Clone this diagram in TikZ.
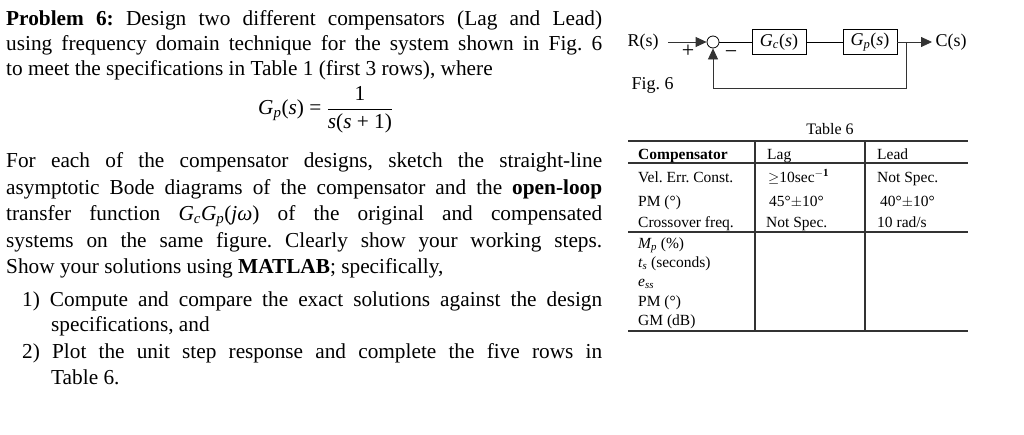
\documentclass[tikz,border=0pt]{standalone}
\usepackage{fontspec}
\setmainfont{Liberation Serif}
\usepackage{amsmath}
\usetikzlibrary{arrows.meta}
\newcommand{\ti}[1]{\textit{#1}}
\frenchspacing
\begin{document}
\begin{tikzpicture}[x=1pt,y=-1pt,
  ln/.style={anchor=base west,inner sep=0,font=\fontsize{21.3}{24}\selectfont},
  tb/.style={anchor=base west,inner sep=0,font=\fontsize{15.5}{17}\selectfont},
  blk/.style={draw,thick,minimum width=54pt,minimum height=25pt,inner sep=0,font=\fontsize{18}{20}\selectfont},
  ar/.style={-{Triangle[length=11pt,width=10pt]},thick,draw=black!80},
  rule/.style={line width=2pt,draw=black!80},
  thin/.style={line width=1.1pt,draw=black!80}]
\useasboundingbox (0,0) rectangle (1024,434);
% left text
\node[ln] (l1) at (6,25) {\makebox[596pt][s]{\textbf{Problem 6:} Design two different compensators (Lag and Lead)}};
\node[ln] (l2) at (6,50) {\makebox[596pt][s]{using frequency domain technique for the system shown in Fig. 6}};
\node[ln] (l3) at (6,75) {to meet the specifications in Table 1 (first 3 rows), where};
\node[anchor=west,inner sep=0,font=\fontsize{21.3}{24}\selectfont] (eq) at (258,110) {\ti{G}\textsubscript{\ti{p}}(\ti{s}) = $\dfrac{\mbox{1}}{\mbox{\ti{s}(\ti{s} + 1)}}$};
\node[ln] (l4) at (6,167) {\makebox[596pt][s]{For each of the compensator designs, sketch the straight-line}};
\node[ln] (l5) at (6,194) {\makebox[596pt][s]{asymptotic Bode diagrams of the compensator and the \textbf{open-loop}}};
\node[ln] (l6) at (6,220) {\makebox[596pt][s]{transfer function \ti{G\textsubscript{c}G\textsubscript{p}}(\ti{jω}) of the original and compensated}};
\node[ln] (l7) at (6,247) {\makebox[596pt][s]{systems on the same figure. Clearly show your working steps.}};
\node[ln] (l8) at (6,273) {Show your solutions using \textbf{MATLAB}; specifically,};
\node[ln] (l9) at (22,306) {\makebox[580pt][s]{1) Compute and compare the exact solutions against the design}};
\node[ln] (l10) at (51,331) {specifications, and};
\node[ln] (l11) at (22,358) {\makebox[580pt][s]{2) Plot the unit step response and complete the five rows in}};
\node[ln] (l12) at (51,384) {Table 6.};
% block diagram
\node[anchor=center,font=\fontsize{18}{20}\selectfont] (R) at (643,42) {R(s)};
\node[draw,thick,circle,minimum size=12pt,inner sep=0] (sum) at (713,42) {};
\node[blk] (gc) at (779,42) {\ti{G\textsubscript{c}}(\ti{s})};
\node[blk] (gp) at (870,42) {\ti{G\textsubscript{p}}(\ti{s})};
\node[anchor=west,font=\fontsize{18}{20}\selectfont] (C) at (932,42) {C(s)};
\coordinate (tap) at (906,42);
\coordinate (fb1) at (906,88);
\coordinate (fb2) at (713,88);
\draw[ar] (R.east) ++(6pt,0) coordinate (rs) -- (sum.west);
\draw[thick] (sum.east) -- (gc.west);
\draw[thick] (gc.east) -- (gp.west);
\draw[ar] (gp.east) -- (C.west);
\draw[ar] (tap) -- (fb1) -- (fb2) -- (sum.south);
\node[font=\fontsize{22}{22}\selectfont] (plus) at (688,51) {+};
\node[font=\fontsize{22}{22}\selectfont] (minus) at (731,55) {−};
\node[anchor=west,font=\fontsize{18}{20}\selectfont] (fig) at (628,85) {Fig. 6};
% table
\node[font=\fontsize{16}{17}\selectfont] (tt) at (830,129) {Table 6};
\draw[rule] (628,141) coordinate (t1) -- (968,141) coordinate (t2);
\draw[thin] (628,163) coordinate (h1) -- (968,163) coordinate (h2);
\draw[thin] (628,232) coordinate (m1) -- (968,232) coordinate (m2);
\draw[rule] (628,331) coordinate (b1) -- (968,331) coordinate (b2);
\draw[thin] (755,141) coordinate (v1) -- (755,331) coordinate (v2);
\draw[thin] (865,141) coordinate (w1) -- (865,331) coordinate (w2);
\node[tb] (c1) at (638,159) {\textbf{Compensator}};
\node[tb] (c2) at (767,159) {Lag};
\node[tb] (c3) at (877,159) {Lead};
\node[tb] (r1) at (638,182) {Vel. Err. Const.};
\node[tb] (r1a) at (768,182) {$\geq$10sec$^{\mathbf{-1}}$};
\node[tb] (r1b) at (877,182) {Not Spec.};
\node[tb] (r2) at (638,206) {PM (°)};
\node[tb] (r2a) at (769,206) {45°$\pm$10°};
\node[tb] (r2b) at (880,206) {40°$\pm$10°};
\node[tb] (r3) at (638,227) {Crossover freq.};
\node[tb] (r3a) at (766,227) {Not Spec.};
\node[tb] (r3b) at (877,227) {10 rad/s};
\node[tb] (r4) at (638,248) {\ti{M\textsubscript{p}} (\%)};
\node[tb] (r5) at (638,267) {\ti{t\textsubscript{s}} (seconds)};
\node[tb] (r6) at (638,286) {\ti{e\textsubscript{ss}}};
\node[tb] (r7) at (638,306) {PM (°)};
\node[tb] (r8) at (638,325) {GM (dB)};
\end{tikzpicture}
\end{document}
